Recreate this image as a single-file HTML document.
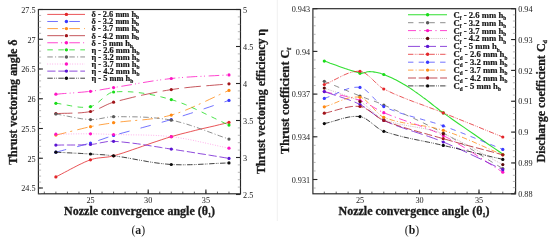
<!DOCTYPE html>
<html><head><meta charset="utf-8"><title>Figure</title>
<style>html,body{margin:0;padding:0;background:#fff}svg{display:block}text{font-family:"Liberation Serif", "DejaVu Serif", serif;fill:#1a1a1a}</style></head><body>
<svg width="550" height="240" viewBox="0 0 550 240">
<rect width="550" height="240" fill="#ffffff"/>
<line x1="277.3" x2="277.3" y1="0" y2="221" stroke="#f1f1f1" stroke-width="1"/>
<path d="M55.9 176.9 L58.8 175.4 L61.7 173.9 L64.5 172.4 L67.4 170.9 L70.3 169.3 L73.2 167.8 L76.1 166.3 L79.0 164.8 L81.8 163.5 L84.7 162.1 L87.6 160.9 L90.5 159.8 L92.4 159.2 L94.3 158.7 L96.3 158.3 L98.2 158.0 L100.1 157.8 L102.0 157.6 L104.0 157.4 L105.9 157.2 L107.8 157.0 L109.7 156.7 L111.7 156.3 L113.6 155.8 L118.4 154.4 L123.2 152.9 L128.0 151.3 L132.8 149.6 L137.6 148.0 L142.4 146.3 L147.2 144.6 L152.0 142.9 L156.9 141.3 L161.7 139.7 L166.5 138.1 L171.3 136.7 L176.1 135.3 L180.9 134.0 L185.7 132.8 L190.5 131.6 L195.3 130.4 L200.1 129.2 L204.9 128.1 L209.7 127.0 L214.6 125.9 L219.4 124.7 L224.2 123.6 L229.0 122.4" fill="none" stroke="#e3262a" stroke-width="0.9" stroke-opacity="0.88"/>
<circle cx="55.88" cy="176.90" r="1.6" fill="#e3262a"/>
<circle cx="90.50" cy="159.80" r="1.6" fill="#e3262a"/>
<circle cx="113.58" cy="155.80" r="1.6" fill="#e3262a"/>
<circle cx="171.28" cy="136.70" r="1.6" fill="#e3262a"/>
<circle cx="228.98" cy="122.40" r="1.6" fill="#e3262a"/>
<path d="M55.9 152.2 L58.8 151.4 L61.7 150.7 L64.5 149.9 L67.4 149.2 L70.3 148.4 L73.2 147.7 L76.1 146.9 L79.0 146.2 L81.8 145.4 L84.7 144.6 L87.6 143.8 L90.5 143.0 L92.4 142.4 L94.3 141.8 L96.3 141.2 L98.2 140.6 L100.1 139.9 L102.0 139.3 L104.0 138.6 L105.9 137.9 L107.8 137.3 L109.7 136.7 L111.7 136.1 L113.6 135.5 L118.4 134.1 L123.2 132.8 L128.0 131.5 L132.8 130.2 L137.6 128.9 L142.4 127.6 L147.2 126.3 L152.0 125.0 L156.9 123.7 L161.7 122.3 L166.5 120.9 L171.3 119.5 L176.1 118.0 L180.9 116.5 L185.7 114.9 L190.5 113.4 L195.3 111.8 L200.1 110.1 L204.9 108.5 L209.7 106.9 L214.6 105.2 L219.4 103.6 L224.2 102.0 L229.0 100.4" fill="none" stroke="#3a3aff" stroke-width="0.9" stroke-opacity="0.8" stroke-dasharray="10.6 11.4"/>
<circle cx="55.88" cy="152.20" r="1.6" fill="#3a3aff"/>
<circle cx="90.50" cy="143.00" r="1.6" fill="#3a3aff"/>
<circle cx="113.58" cy="135.50" r="1.6" fill="#3a3aff"/>
<circle cx="171.28" cy="119.50" r="1.6" fill="#3a3aff"/>
<circle cx="228.98" cy="100.40" r="1.6" fill="#3a3aff"/>
<path d="M55.9 135.1 L58.8 134.4 L61.7 133.7 L64.5 133.0 L67.4 132.2 L70.3 131.5 L73.2 130.8 L76.1 130.1 L79.0 129.4 L81.8 128.7 L84.7 128.0 L87.6 127.3 L90.5 126.7 L92.4 126.3 L94.3 125.9 L96.3 125.5 L98.2 125.2 L100.1 124.8 L102.0 124.5 L104.0 124.2 L105.9 123.9 L107.8 123.6 L109.7 123.3 L111.7 123.0 L113.6 122.7 L118.4 122.1 L123.2 121.6 L128.0 121.1 L132.8 120.7 L137.6 120.3 L142.4 119.9 L147.2 119.4 L152.0 118.8 L156.9 118.2 L161.7 117.3 L166.5 116.3 L171.3 115.1 L176.1 113.6 L180.9 112.0 L185.7 110.1 L190.5 108.1 L195.3 106.0 L200.1 103.8 L204.9 101.6 L209.7 99.3 L214.6 97.0 L219.4 94.7 L224.2 92.5 L229.0 90.4" fill="none" stroke="#ff8a14" stroke-width="0.9" stroke-opacity="0.88" stroke-dasharray="10.6 4.2 2 5.2"/>
<circle cx="55.88" cy="135.10" r="1.6" fill="#ff8a14"/>
<circle cx="90.50" cy="126.70" r="1.6" fill="#ff8a14"/>
<circle cx="113.58" cy="122.70" r="1.6" fill="#ff8a14"/>
<circle cx="171.28" cy="115.10" r="1.6" fill="#ff8a14"/>
<circle cx="228.98" cy="90.40" r="1.6" fill="#ff8a14"/>
<path d="M55.9 113.6 L58.8 113.5 L61.7 113.4 L64.5 113.3 L67.4 113.3 L70.3 113.2 L73.2 113.1 L76.1 113.0 L79.0 112.9 L81.8 112.7 L84.7 112.4 L87.6 112.0 L90.5 111.5 L92.4 111.0 L94.3 110.4 L96.3 109.7 L98.2 108.9 L100.1 108.0 L102.0 107.1 L104.0 106.1 L105.9 105.2 L107.8 104.3 L109.7 103.5 L111.7 102.8 L113.6 102.2 L118.4 100.9 L123.2 99.7 L128.0 98.5 L132.8 97.3 L137.6 96.2 L142.4 95.1 L147.2 94.1 L152.0 93.1 L156.9 92.1 L161.7 91.2 L166.5 90.4 L171.3 89.6 L176.1 88.9 L180.9 88.2 L185.7 87.7 L190.5 87.2 L195.3 86.7 L200.1 86.3 L204.9 85.9 L209.7 85.5 L214.6 85.1 L219.4 84.7 L224.2 84.3 L229.0 83.8" fill="none" stroke="#b4232c" stroke-width="0.9" stroke-opacity="0.85" stroke-dasharray="16.5 5.5"/>
<circle cx="55.88" cy="113.60" r="1.6" fill="#a0141a"/>
<circle cx="90.50" cy="111.50" r="1.6" fill="#a0141a"/>
<circle cx="113.58" cy="102.20" r="1.6" fill="#a0141a"/>
<circle cx="171.28" cy="89.60" r="1.6" fill="#a0141a"/>
<circle cx="228.98" cy="83.80" r="1.6" fill="#a0141a"/>
<path d="M55.9 94.2 L58.8 94.0 L61.7 93.7 L64.5 93.5 L67.4 93.3 L70.3 93.1 L73.2 92.9 L76.1 92.7 L79.0 92.4 L81.8 92.2 L84.7 91.9 L87.6 91.6 L90.5 91.3 L92.4 91.1 L94.3 90.8 L96.3 90.5 L98.2 90.2 L100.1 89.9 L102.0 89.6 L104.0 89.2 L105.9 88.9 L107.8 88.6 L109.7 88.2 L111.7 87.9 L113.6 87.6 L118.4 86.8 L123.2 86.0 L128.0 85.2 L132.8 84.4 L137.6 83.5 L142.4 82.7 L147.2 81.9 L152.0 81.1 L156.9 80.4 L161.7 79.7 L166.5 79.1 L171.3 78.5 L176.1 78.0 L180.9 77.6 L185.7 77.2 L190.5 76.9 L195.3 76.6 L200.1 76.4 L204.9 76.1 L209.7 75.9 L214.6 75.7 L219.4 75.4 L224.2 75.2 L229.0 74.9" fill="none" stroke="#ff14c4" stroke-width="0.9" stroke-opacity="0.88" stroke-dasharray="10.6 3.2 1 2.5 1 3.7"/>
<circle cx="55.88" cy="94.20" r="1.6" fill="#ff14c4"/>
<circle cx="90.50" cy="91.30" r="1.6" fill="#ff14c4"/>
<circle cx="113.58" cy="87.60" r="1.6" fill="#ff14c4"/>
<circle cx="171.28" cy="78.50" r="1.6" fill="#ff14c4"/>
<circle cx="228.98" cy="74.90" r="1.6" fill="#ff14c4"/>
<path d="M55.9 103.3 L58.8 103.6 L61.7 104.1 L64.5 104.6 L67.4 105.2 L70.3 105.7 L73.2 106.3 L76.1 106.7 L79.0 107.1 L81.8 107.3 L84.7 107.3 L87.6 107.1 L90.5 106.7 L92.4 106.1 L94.3 105.1 L96.3 103.9 L98.2 102.4 L100.1 100.7 L102.0 99.0 L104.0 97.4 L105.9 95.8 L107.8 94.4 L109.7 93.2 L111.7 92.4 L113.6 92.0 L118.4 91.7 L123.2 91.6 L128.0 91.7 L132.8 92.0 L137.6 92.5 L142.4 93.1 L147.2 93.9 L152.0 94.8 L156.9 95.8 L161.7 97.0 L166.5 98.3 L171.3 99.6 L176.1 101.1 L180.9 102.8 L185.7 104.7 L190.5 106.8 L195.3 109.0 L200.1 111.2 L204.9 113.6 L209.7 115.9 L214.6 118.3 L219.4 120.6 L224.2 122.9 L229.0 125.1" fill="none" stroke="#19dc19" stroke-width="0.9" stroke-opacity="0.88" stroke-dasharray="5.5 5.5"/>
<circle cx="55.88" cy="103.30" r="1.6" fill="#19dc19"/>
<circle cx="90.50" cy="106.70" r="1.6" fill="#19dc19"/>
<circle cx="113.58" cy="92.00" r="1.6" fill="#19dc19"/>
<circle cx="171.28" cy="99.60" r="1.6" fill="#19dc19"/>
<circle cx="228.98" cy="125.10" r="1.6" fill="#19dc19"/>
<path d="M55.9 114.0 L58.8 114.5 L61.7 115.0 L64.5 115.6 L67.4 116.2 L70.3 116.7 L73.2 117.3 L76.1 117.8 L79.0 118.3 L81.8 118.8 L84.7 119.1 L87.6 119.4 L90.5 119.6 L92.4 119.6 L94.3 119.5 L96.3 119.3 L98.2 119.0 L100.1 118.6 L102.0 118.3 L104.0 117.9 L105.9 117.5 L107.8 117.2 L109.7 116.9 L111.7 116.8 L113.6 116.7 L118.4 116.7 L123.2 116.7 L128.0 116.8 L132.8 116.8 L137.6 116.9 L142.4 117.1 L147.2 117.3 L152.0 117.7 L156.9 118.1 L161.7 118.7 L166.5 119.3 L171.3 120.2 L176.1 121.2 L180.9 122.5 L185.7 123.8 L190.5 125.4 L195.3 127.0 L200.1 128.7 L204.9 130.4 L209.7 132.2 L214.6 134.0 L219.4 135.8 L224.2 137.5 L229.0 139.1" fill="none" stroke="#707070" stroke-width="0.9" stroke-opacity="0.88" stroke-dasharray="5.5 2.3 1 2.2"/>
<circle cx="55.88" cy="114.00" r="1.6" fill="#5a5a5a"/>
<circle cx="90.50" cy="119.60" r="1.6" fill="#5a5a5a"/>
<circle cx="113.58" cy="116.70" r="1.6" fill="#5a5a5a"/>
<circle cx="171.28" cy="120.20" r="1.6" fill="#5a5a5a"/>
<circle cx="228.98" cy="139.10" r="1.6" fill="#5a5a5a"/>
<path d="M55.9 134.2 L58.8 134.2 L61.7 134.1 L64.5 134.1 L67.4 134.0 L70.3 134.0 L73.2 133.9 L76.1 133.9 L79.0 133.8 L81.8 133.8 L84.7 133.8 L87.6 133.8 L90.5 133.8 L92.4 133.8 L94.3 133.8 L96.3 133.9 L98.2 133.9 L100.1 134.0 L102.0 134.1 L104.0 134.1 L105.9 134.2 L107.8 134.3 L109.7 134.4 L111.7 134.4 L113.6 134.5 L118.4 134.6 L123.2 134.7 L128.0 134.8 L132.8 134.9 L137.6 134.9 L142.4 135.0 L147.2 135.1 L152.0 135.3 L156.9 135.5 L161.7 135.8 L166.5 136.2 L171.3 136.7 L176.1 137.3 L180.9 138.1 L185.7 138.9 L190.5 139.8 L195.3 140.8 L200.1 141.9 L204.9 142.9 L209.7 144.0 L214.6 145.1 L219.4 146.2 L224.2 147.2 L229.0 148.2" fill="none" stroke="#ff14c4" stroke-width="0.9" stroke-opacity="0.45" stroke-dasharray="0.8 1.7"/>
<circle cx="55.88" cy="134.20" r="1.6" fill="#ff14c4"/>
<circle cx="90.50" cy="133.80" r="1.6" fill="#ff14c4"/>
<circle cx="113.58" cy="134.50" r="1.6" fill="#ff14c4"/>
<circle cx="171.28" cy="136.70" r="1.6" fill="#ff14c4"/>
<circle cx="228.98" cy="148.20" r="1.6" fill="#ff14c4"/>
<path d="M55.9 145.1 L58.8 145.1 L61.7 145.0 L64.5 145.0 L67.4 145.0 L70.3 145.0 L73.2 145.0 L76.1 145.0 L79.0 144.9 L81.8 144.9 L84.7 144.8 L87.6 144.7 L90.5 144.5 L92.4 144.3 L94.3 144.1 L96.3 143.7 L98.2 143.3 L100.1 142.9 L102.0 142.5 L104.0 142.2 L105.9 141.8 L107.8 141.5 L109.7 141.3 L111.7 141.3 L113.6 141.3 L118.4 141.6 L123.2 142.1 L128.0 142.6 L132.8 143.2 L137.6 143.8 L142.4 144.5 L147.2 145.3 L152.0 146.1 L156.9 146.8 L161.7 147.6 L166.5 148.4 L171.3 149.1 L176.1 149.8 L180.9 150.6 L185.7 151.3 L190.5 152.1 L195.3 152.9 L200.1 153.7 L204.9 154.4 L209.7 155.2 L214.6 156.0 L219.4 156.8 L224.2 157.6 L229.0 158.4" fill="none" stroke="#7a2ad6" stroke-width="0.9" stroke-opacity="0.95" stroke-dasharray="8.2 2.8"/>
<circle cx="55.88" cy="145.10" r="1.6" fill="#5a14d2"/>
<circle cx="90.50" cy="144.50" r="1.6" fill="#5a14d2"/>
<circle cx="113.58" cy="141.30" r="1.6" fill="#5a14d2"/>
<circle cx="171.28" cy="149.10" r="1.6" fill="#5a14d2"/>
<circle cx="228.98" cy="158.40" r="1.6" fill="#5a14d2"/>
<path d="M55.9 152.2 L58.8 152.3 L61.7 152.5 L64.5 152.6 L67.4 152.8 L70.3 152.9 L73.2 153.1 L76.1 153.2 L79.0 153.3 L81.8 153.5 L84.7 153.7 L87.6 153.8 L90.5 154.0 L92.4 154.1 L94.3 154.2 L96.3 154.3 L98.2 154.5 L100.1 154.6 L102.0 154.7 L104.0 154.8 L105.9 155.0 L107.8 155.2 L109.7 155.4 L111.7 155.6 L113.6 155.8 L118.4 156.5 L123.2 157.2 L128.0 158.0 L132.8 158.9 L137.6 159.8 L142.4 160.6 L147.2 161.5 L152.0 162.3 L156.9 163.0 L161.7 163.6 L166.5 164.1 L171.3 164.5 L176.1 164.7 L180.9 164.8 L185.7 164.8 L190.5 164.7 L195.3 164.6 L200.1 164.3 L204.9 164.1 L209.7 163.8 L214.6 163.5 L219.4 163.3 L224.2 163.1 L229.0 162.9" fill="none" stroke="#0a0a0a" stroke-width="0.9" stroke-opacity="0.88" stroke-dasharray="5.5 1.3 0.8 1 0.8 1.6"/>
<circle cx="55.88" cy="152.20" r="1.6" fill="#0a0a0a"/>
<circle cx="90.50" cy="154.00" r="1.6" fill="#0a0a0a"/>
<circle cx="113.58" cy="155.80" r="1.6" fill="#0a0a0a"/>
<circle cx="171.28" cy="164.50" r="1.6" fill="#0a0a0a"/>
<circle cx="228.98" cy="162.90" r="1.6" fill="#0a0a0a"/>
<rect x="38.4" y="9.5" width="202.1" height="184.3" fill="none" stroke="#262626" stroke-width="1.15"/>
<line x1="44.34" x2="44.34" y1="193.8" y2="191.60000000000002" stroke="#262626" stroke-width="0.7"/>
<line x1="55.88" x2="55.88" y1="193.8" y2="191.60000000000002" stroke="#262626" stroke-width="0.7"/>
<line x1="67.42" x2="67.42" y1="193.8" y2="191.60000000000002" stroke="#262626" stroke-width="0.7"/>
<line x1="78.96" x2="78.96" y1="193.8" y2="191.60000000000002" stroke="#262626" stroke-width="0.7"/>
<line x1="90.50" x2="90.50" y1="193.8" y2="191.60000000000002" stroke="#262626" stroke-width="0.7"/>
<line x1="102.04" x2="102.04" y1="193.8" y2="191.60000000000002" stroke="#262626" stroke-width="0.7"/>
<line x1="113.58" x2="113.58" y1="193.8" y2="191.60000000000002" stroke="#262626" stroke-width="0.7"/>
<line x1="125.12" x2="125.12" y1="193.8" y2="191.60000000000002" stroke="#262626" stroke-width="0.7"/>
<line x1="136.66" x2="136.66" y1="193.8" y2="191.60000000000002" stroke="#262626" stroke-width="0.7"/>
<line x1="148.20" x2="148.20" y1="193.8" y2="191.60000000000002" stroke="#262626" stroke-width="0.7"/>
<line x1="159.74" x2="159.74" y1="193.8" y2="191.60000000000002" stroke="#262626" stroke-width="0.7"/>
<line x1="171.28" x2="171.28" y1="193.8" y2="191.60000000000002" stroke="#262626" stroke-width="0.7"/>
<line x1="182.82" x2="182.82" y1="193.8" y2="191.60000000000002" stroke="#262626" stroke-width="0.7"/>
<line x1="194.36" x2="194.36" y1="193.8" y2="191.60000000000002" stroke="#262626" stroke-width="0.7"/>
<line x1="205.90" x2="205.90" y1="193.8" y2="191.60000000000002" stroke="#262626" stroke-width="0.7"/>
<line x1="217.44" x2="217.44" y1="193.8" y2="191.60000000000002" stroke="#262626" stroke-width="0.7"/>
<line x1="228.98" x2="228.98" y1="193.8" y2="191.60000000000002" stroke="#262626" stroke-width="0.7"/>
<line x1="240.52" x2="240.52" y1="193.8" y2="191.60000000000002" stroke="#262626" stroke-width="0.7"/>
<line x1="90.50" x2="90.50" y1="193.8" y2="189.60000000000002" stroke="#262626" stroke-width="1.1"/>
<text x="90.50" y="203.0" font-size="8.2" text-anchor="middle">25</text>
<line x1="148.20" x2="148.20" y1="193.8" y2="189.60000000000002" stroke="#262626" stroke-width="1.1"/>
<text x="148.20" y="203.0" font-size="8.2" text-anchor="middle">30</text>
<line x1="205.90" x2="205.90" y1="193.8" y2="189.60000000000002" stroke="#262626" stroke-width="1.1"/>
<text x="205.90" y="203.0" font-size="8.2" text-anchor="middle">35</text>
<line x1="38.4" x2="41.1" y1="193.95" y2="193.95" stroke="#888" stroke-width="0.6"/>
<line x1="38.4" x2="41.1" y1="188.00" y2="188.00" stroke="#888" stroke-width="0.6"/>
<line x1="38.4" x2="41.1" y1="182.05" y2="182.05" stroke="#888" stroke-width="0.6"/>
<line x1="38.4" x2="41.1" y1="176.10" y2="176.10" stroke="#888" stroke-width="0.6"/>
<line x1="38.4" x2="41.1" y1="170.15" y2="170.15" stroke="#888" stroke-width="0.6"/>
<line x1="38.4" x2="41.1" y1="164.20" y2="164.20" stroke="#888" stroke-width="0.6"/>
<line x1="38.4" x2="41.1" y1="158.25" y2="158.25" stroke="#888" stroke-width="0.6"/>
<line x1="38.4" x2="41.1" y1="152.30" y2="152.30" stroke="#888" stroke-width="0.6"/>
<line x1="38.4" x2="41.1" y1="146.35" y2="146.35" stroke="#888" stroke-width="0.6"/>
<line x1="38.4" x2="41.1" y1="140.40" y2="140.40" stroke="#888" stroke-width="0.6"/>
<line x1="38.4" x2="41.1" y1="134.45" y2="134.45" stroke="#888" stroke-width="0.6"/>
<line x1="38.4" x2="41.1" y1="128.50" y2="128.50" stroke="#888" stroke-width="0.6"/>
<line x1="38.4" x2="41.1" y1="122.55" y2="122.55" stroke="#888" stroke-width="0.6"/>
<line x1="38.4" x2="41.1" y1="116.60" y2="116.60" stroke="#888" stroke-width="0.6"/>
<line x1="38.4" x2="41.1" y1="110.65" y2="110.65" stroke="#888" stroke-width="0.6"/>
<line x1="38.4" x2="41.1" y1="104.70" y2="104.70" stroke="#888" stroke-width="0.6"/>
<line x1="38.4" x2="41.1" y1="98.75" y2="98.75" stroke="#888" stroke-width="0.6"/>
<line x1="38.4" x2="41.1" y1="92.80" y2="92.80" stroke="#888" stroke-width="0.6"/>
<line x1="38.4" x2="41.1" y1="86.85" y2="86.85" stroke="#888" stroke-width="0.6"/>
<line x1="38.4" x2="41.1" y1="80.90" y2="80.90" stroke="#888" stroke-width="0.6"/>
<line x1="38.4" x2="41.1" y1="74.95" y2="74.95" stroke="#888" stroke-width="0.6"/>
<line x1="38.4" x2="41.1" y1="69.00" y2="69.00" stroke="#888" stroke-width="0.6"/>
<line x1="38.4" x2="41.1" y1="63.05" y2="63.05" stroke="#888" stroke-width="0.6"/>
<line x1="38.4" x2="41.1" y1="57.10" y2="57.10" stroke="#888" stroke-width="0.6"/>
<line x1="38.4" x2="41.1" y1="51.15" y2="51.15" stroke="#888" stroke-width="0.6"/>
<line x1="38.4" x2="41.1" y1="45.20" y2="45.20" stroke="#888" stroke-width="0.6"/>
<line x1="38.4" x2="41.1" y1="39.25" y2="39.25" stroke="#888" stroke-width="0.6"/>
<line x1="38.4" x2="41.1" y1="33.30" y2="33.30" stroke="#888" stroke-width="0.6"/>
<line x1="38.4" x2="41.1" y1="27.35" y2="27.35" stroke="#888" stroke-width="0.6"/>
<line x1="38.4" x2="41.1" y1="21.40" y2="21.40" stroke="#888" stroke-width="0.6"/>
<line x1="38.4" x2="41.1" y1="15.45" y2="15.45" stroke="#888" stroke-width="0.6"/>
<line x1="38.4" x2="41.1" y1="9.50" y2="9.50" stroke="#888" stroke-width="0.6"/>
<line x1="38.4" x2="42.9" y1="188.00" y2="188.00" stroke="#262626" stroke-width="1.1"/>
<text x="35.60" y="191.30" font-size="8.2" text-anchor="end">24.5</text>
<line x1="38.4" x2="42.9" y1="158.25" y2="158.25" stroke="#262626" stroke-width="1.1"/>
<text x="35.60" y="161.55" font-size="8.2" text-anchor="end">25</text>
<line x1="38.4" x2="42.9" y1="128.50" y2="128.50" stroke="#262626" stroke-width="1.1"/>
<text x="35.60" y="131.80" font-size="8.2" text-anchor="end">25.5</text>
<line x1="38.4" x2="42.9" y1="98.75" y2="98.75" stroke="#262626" stroke-width="1.1"/>
<text x="35.60" y="102.05" font-size="8.2" text-anchor="end">26</text>
<line x1="38.4" x2="42.9" y1="69.00" y2="69.00" stroke="#262626" stroke-width="1.1"/>
<text x="35.60" y="72.30" font-size="8.2" text-anchor="end">26.5</text>
<line x1="38.4" x2="42.9" y1="39.25" y2="39.25" stroke="#262626" stroke-width="1.1"/>
<text x="35.60" y="42.55" font-size="8.2" text-anchor="end">27</text>
<line x1="38.4" x2="42.9" y1="9.50" y2="9.50" stroke="#262626" stroke-width="1.1"/>
<text x="35.60" y="12.80" font-size="8.2" text-anchor="end">27.5</text>
<line x1="240.5" x2="237.8" y1="194.50" y2="194.50" stroke="#888" stroke-width="0.6"/>
<line x1="240.5" x2="237.8" y1="187.10" y2="187.10" stroke="#888" stroke-width="0.6"/>
<line x1="240.5" x2="237.8" y1="179.70" y2="179.70" stroke="#888" stroke-width="0.6"/>
<line x1="240.5" x2="237.8" y1="172.30" y2="172.30" stroke="#888" stroke-width="0.6"/>
<line x1="240.5" x2="237.8" y1="164.90" y2="164.90" stroke="#888" stroke-width="0.6"/>
<line x1="240.5" x2="237.8" y1="157.50" y2="157.50" stroke="#888" stroke-width="0.6"/>
<line x1="240.5" x2="237.8" y1="150.10" y2="150.10" stroke="#888" stroke-width="0.6"/>
<line x1="240.5" x2="237.8" y1="142.70" y2="142.70" stroke="#888" stroke-width="0.6"/>
<line x1="240.5" x2="237.8" y1="135.30" y2="135.30" stroke="#888" stroke-width="0.6"/>
<line x1="240.5" x2="237.8" y1="127.90" y2="127.90" stroke="#888" stroke-width="0.6"/>
<line x1="240.5" x2="237.8" y1="120.50" y2="120.50" stroke="#888" stroke-width="0.6"/>
<line x1="240.5" x2="237.8" y1="113.10" y2="113.10" stroke="#888" stroke-width="0.6"/>
<line x1="240.5" x2="237.8" y1="105.70" y2="105.70" stroke="#888" stroke-width="0.6"/>
<line x1="240.5" x2="237.8" y1="98.30" y2="98.30" stroke="#888" stroke-width="0.6"/>
<line x1="240.5" x2="237.8" y1="90.90" y2="90.90" stroke="#888" stroke-width="0.6"/>
<line x1="240.5" x2="237.8" y1="83.50" y2="83.50" stroke="#888" stroke-width="0.6"/>
<line x1="240.5" x2="237.8" y1="76.10" y2="76.10" stroke="#888" stroke-width="0.6"/>
<line x1="240.5" x2="237.8" y1="68.70" y2="68.70" stroke="#888" stroke-width="0.6"/>
<line x1="240.5" x2="237.8" y1="61.30" y2="61.30" stroke="#888" stroke-width="0.6"/>
<line x1="240.5" x2="237.8" y1="53.90" y2="53.90" stroke="#888" stroke-width="0.6"/>
<line x1="240.5" x2="237.8" y1="46.50" y2="46.50" stroke="#888" stroke-width="0.6"/>
<line x1="240.5" x2="237.8" y1="39.10" y2="39.10" stroke="#888" stroke-width="0.6"/>
<line x1="240.5" x2="237.8" y1="31.70" y2="31.70" stroke="#888" stroke-width="0.6"/>
<line x1="240.5" x2="237.8" y1="24.30" y2="24.30" stroke="#888" stroke-width="0.6"/>
<line x1="240.5" x2="237.8" y1="16.90" y2="16.90" stroke="#888" stroke-width="0.6"/>
<line x1="240.5" x2="237.8" y1="9.50" y2="9.50" stroke="#888" stroke-width="0.6"/>
<line x1="240.5" x2="236.0" y1="194.50" y2="194.50" stroke="#262626" stroke-width="1.1"/>
<text x="243.1" y="197.60" font-size="8.2" text-anchor="start">2.5</text>
<line x1="240.5" x2="236.0" y1="157.50" y2="157.50" stroke="#262626" stroke-width="1.1"/>
<text x="243.1" y="160.60" font-size="8.2" text-anchor="start">3</text>
<line x1="240.5" x2="236.0" y1="120.50" y2="120.50" stroke="#262626" stroke-width="1.1"/>
<text x="243.1" y="123.60" font-size="8.2" text-anchor="start">3.5</text>
<line x1="240.5" x2="236.0" y1="83.50" y2="83.50" stroke="#262626" stroke-width="1.1"/>
<text x="243.1" y="86.60" font-size="8.2" text-anchor="start">4</text>
<line x1="240.5" x2="236.0" y1="46.50" y2="46.50" stroke="#262626" stroke-width="1.1"/>
<text x="243.1" y="49.60" font-size="8.2" text-anchor="start">4.5</text>
<line x1="240.5" x2="236.0" y1="9.50" y2="9.50" stroke="#262626" stroke-width="1.1"/>
<text x="243.1" y="12.60" font-size="8.2" text-anchor="start">5</text>
<line x1="47.3" x2="85" y1="14.40" y2="14.40" stroke="#e3262a" stroke-width="0.9" stroke-opacity="0.88"/>
<circle cx="66.4" cy="14.40" r="1.7" fill="#e3262a"/>
<text transform="translate(91.5,17.30) scale(1.0,1)" font-size="8.4" font-weight="bold" stroke="#1a1a1a" stroke-width="0.22">δ - 2.6 mm h<tspan font-size="5.4" dy="1.9">b</tspan></text>
<line x1="47.3" x2="85" y1="21.49" y2="21.49" stroke="#3a3aff" stroke-width="0.9" stroke-opacity="0.8" stroke-dasharray="10.6 11.4"/>
<circle cx="66.4" cy="21.49" r="1.7" fill="#3a3aff"/>
<text transform="translate(91.5,24.39) scale(1.0,1)" font-size="8.4" font-weight="bold" stroke="#1a1a1a" stroke-width="0.22">δ - 3.2 mm h<tspan font-size="5.4" dy="1.9">b</tspan></text>
<line x1="47.3" x2="85" y1="28.58" y2="28.58" stroke="#ff8a14" stroke-width="0.9" stroke-opacity="0.88" stroke-dasharray="10.6 4.2 2 5.2"/>
<circle cx="66.4" cy="28.58" r="1.7" fill="#ff8a14"/>
<text transform="translate(91.5,31.48) scale(1.0,1)" font-size="8.4" font-weight="bold" stroke="#1a1a1a" stroke-width="0.22">δ - 3.7 mm h<tspan font-size="5.4" dy="1.9">b</tspan></text>
<line x1="47.3" x2="85" y1="35.67" y2="35.67" stroke="#b4232c" stroke-width="0.9" stroke-opacity="0.85" stroke-dasharray="16.5 5.5"/>
<circle cx="66.4" cy="35.67" r="1.7" fill="#a0141a"/>
<text transform="translate(91.5,38.57) scale(1.0,1)" font-size="8.4" font-weight="bold" stroke="#1a1a1a" stroke-width="0.22">δ - 4.2 mm h<tspan font-size="5.4" dy="1.9">b</tspan></text>
<line x1="47.3" x2="85" y1="42.76" y2="42.76" stroke="#ff14c4" stroke-width="0.9" stroke-opacity="0.88" stroke-dasharray="10.6 3.2 1 2.5 1 3.7"/>
<circle cx="66.4" cy="42.76" r="1.7" fill="#ff14c4"/>
<text transform="translate(91.5,45.66) scale(1.0,1)" font-size="8.4" font-weight="bold" stroke="#1a1a1a" stroke-width="0.22">δ - 5 mm h<tspan font-size="5.4" dy="1.9">b</tspan></text>
<line x1="47.3" x2="85" y1="49.85" y2="49.85" stroke="#19dc19" stroke-width="0.9" stroke-opacity="0.88" stroke-dasharray="5.5 5.5"/>
<circle cx="66.4" cy="49.85" r="1.7" fill="#19dc19"/>
<text transform="translate(91.5,52.75) scale(1.0,1)" font-size="8.4" font-weight="bold" stroke="#1a1a1a" stroke-width="0.22">η - 2.6 mm h<tspan font-size="5.4" dy="1.9">b</tspan></text>
<line x1="47.3" x2="85" y1="56.94" y2="56.94" stroke="#707070" stroke-width="0.9" stroke-opacity="0.88" stroke-dasharray="5.5 2.3 1 2.2"/>
<circle cx="66.4" cy="56.94" r="1.7" fill="#5a5a5a"/>
<text transform="translate(91.5,59.84) scale(1.0,1)" font-size="8.4" font-weight="bold" stroke="#1a1a1a" stroke-width="0.22">η - 3.2 mm h<tspan font-size="5.4" dy="1.9">b</tspan></text>
<line x1="47.3" x2="85" y1="64.03" y2="64.03" stroke="#ff14c4" stroke-width="0.9" stroke-opacity="0.45" stroke-dasharray="0.8 1.7"/>
<circle cx="66.4" cy="64.03" r="1.7" fill="#ff14c4"/>
<text transform="translate(91.5,66.93) scale(1.0,1)" font-size="8.4" font-weight="bold" stroke="#1a1a1a" stroke-width="0.22">η - 3.7 mm h<tspan font-size="5.4" dy="1.9">b</tspan></text>
<line x1="47.3" x2="85" y1="71.12" y2="71.12" stroke="#7a2ad6" stroke-width="0.9" stroke-opacity="0.95" stroke-dasharray="8.2 2.8"/>
<circle cx="66.4" cy="71.12" r="1.7" fill="#5a14d2"/>
<text transform="translate(91.5,74.02) scale(1.0,1)" font-size="8.4" font-weight="bold" stroke="#1a1a1a" stroke-width="0.22">η - 4.2 mm h<tspan font-size="5.4" dy="1.9">b</tspan></text>
<line x1="47.3" x2="85" y1="78.21" y2="78.21" stroke="#0a0a0a" stroke-width="0.9" stroke-opacity="0.88" stroke-dasharray="5.5 1.3 0.8 1 0.8 1.6"/>
<circle cx="66.4" cy="78.21" r="1.7" fill="#0a0a0a"/>
<text transform="translate(91.5,81.11) scale(1.0,1)" font-size="8.4" font-weight="bold" stroke="#1a1a1a" stroke-width="0.22">η - 5 mm h<tspan font-size="5.4" dy="1.9">b</tspan></text>
<text transform="translate(139.60,214.60)" font-size="12.0" font-weight="bold" text-anchor="middle" stroke="#1a1a1a" stroke-width="0.3">Nozzle convergence angle (θ<tspan font-size="6.2" dy="2.8">1</tspan><tspan dy="-2.8">)</tspan></text>
<text transform="translate(138.30,234.00)" font-size="11.8" font-weight="bold" text-anchor="middle"><tspan font-weight="normal">(</tspan>a<tspan font-weight="normal">)</tspan></text>
<text transform="translate(17.00,102.20) rotate(-90) scale(1.0,1.04)" font-size="11.95" font-weight="bold" text-anchor="middle" stroke="#1a1a1a" stroke-width="0.3">Thrust vectoring angle δ</text>
<text transform="translate(265.00,101.50) rotate(-90) scale(1.0,1.04)" font-size="11.8" font-weight="bold" text-anchor="middle" stroke="#1a1a1a" stroke-width="0.3">Thrust vectoring efficiency η</text>
<path d="M324.3 61.1 L327.3 62.1 L330.2 63.2 L333.2 64.2 L336.2 65.3 L339.2 66.4 L342.1 67.5 L345.1 68.6 L348.1 69.6 L351.1 70.5 L354.1 71.4 L357.0 72.3 L360.0 73.0 L360.8 73.1 L361.7 73.1 L362.5 73.1 L363.3 72.9 L364.2 72.7 L365.0 72.5 L365.8 72.3 L366.7 72.0 L367.5 71.8 L368.3 71.7 L369.2 71.6 L370.0 71.6 L371.1 71.7 L372.3 71.8 L373.4 71.9 L374.6 72.1 L375.8 72.3 L376.9 72.5 L378.1 72.7 L379.2 73.0 L380.4 73.3 L381.5 73.7 L382.7 74.1 L383.8 74.5 L385.6 75.2 L387.3 75.9 L389.1 76.7 L390.9 77.5 L392.6 78.3 L394.4 79.2 L396.2 80.1 L397.9 81.0 L399.7 82.0 L401.5 83.0 L403.2 84.0 L405.0 85.0 L406.7 86.0 L408.3 87.1 L410.0 88.1 L411.7 89.2 L413.3 90.4 L415.0 91.6 L416.7 92.7 L418.3 93.9 L420.0 95.1 L421.7 96.4 L423.3 97.6 L425.0 98.8 L426.5 99.9 L428.1 101.1 L429.6 102.3 L431.1 103.5 L432.6 104.7 L434.1 105.9 L435.7 107.1 L437.2 108.3 L438.7 109.5 L440.2 110.7 L441.8 111.8 L443.3 112.9 L448.3 116.4 L453.3 120.0 L458.3 123.5 L463.3 126.9 L468.3 130.4 L473.3 133.8 L478.3 137.3 L483.3 140.7 L488.3 144.2 L493.3 147.6 L498.3 151.0 L503.3 154.5" fill="none" stroke="#19dc19" stroke-width="1.1" stroke-opacity="0.9"/>
<circle cx="324.30" cy="61.10" r="1.6" fill="#19dc19"/>
<circle cx="360.00" cy="73.30" r="1.6" fill="#19dc19"/>
<circle cx="383.80" cy="74.50" r="1.6" fill="#19dc19"/>
<circle cx="443.30" cy="112.90" r="1.6" fill="#19dc19"/>
<circle cx="502.80" cy="154.50" r="1.6" fill="#19dc19"/>
<path d="M324.3 81.3 L327.3 82.5 L330.2 83.8 L333.2 85.0 L336.2 86.2 L339.2 87.5 L342.1 88.7 L345.1 89.9 L348.1 91.2 L351.1 92.4 L354.1 93.6 L357.0 94.8 L360.0 96.0 L362.0 96.8 L364.0 97.5 L365.9 98.2 L367.9 99.0 L369.9 99.7 L371.9 100.4 L373.9 101.1 L375.9 101.8 L377.9 102.6 L379.8 103.3 L381.8 104.1 L383.8 105.0 L388.8 107.2 L393.7 109.4 L398.7 111.6 L403.6 113.8 L408.6 116.1 L413.6 118.3 L418.5 120.6 L423.5 123.0 L428.4 125.4 L433.4 127.9 L438.3 130.4 L443.3 133.0 L448.3 135.7 L453.2 138.5 L458.2 141.4 L463.1 144.3 L468.1 147.3 L473.1 150.3 L478.0 153.4 L483.0 156.5 L487.9 159.5 L492.9 162.6 L497.8 165.6 L502.8 168.6" fill="none" stroke="#707070" stroke-width="0.9" stroke-opacity="0.88" stroke-dasharray="5.4 5.3"/>
<circle cx="324.30" cy="81.30" r="1.6" fill="#5a5a5a"/>
<circle cx="360.00" cy="96.00" r="1.6" fill="#5a5a5a"/>
<circle cx="383.80" cy="105.00" r="1.6" fill="#5a5a5a"/>
<circle cx="443.30" cy="133.00" r="1.6" fill="#5a5a5a"/>
<circle cx="502.80" cy="168.60" r="1.6" fill="#5a5a5a"/>
<path d="M324.3 91.6 L327.3 92.3 L330.2 93.0 L333.2 93.6 L336.2 94.2 L339.2 94.9 L342.1 95.5 L345.1 96.2 L348.1 96.9 L351.1 97.7 L354.1 98.5 L357.0 99.4 L360.0 100.4 L362.0 101.2 L364.0 102.1 L365.9 103.0 L367.9 104.1 L369.9 105.2 L371.9 106.3 L373.9 107.5 L375.9 108.6 L377.9 109.8 L379.8 110.8 L381.8 111.8 L383.8 112.7 L388.8 114.7 L393.7 116.6 L398.7 118.4 L403.6 120.2 L408.6 121.9 L413.6 123.6 L418.5 125.3 L423.5 127.1 L428.4 129.0 L433.4 131.0 L438.3 133.2 L443.3 135.6 L448.3 138.2 L453.2 140.9 L458.2 143.8 L463.1 146.8 L468.1 149.9 L473.1 153.0 L478.0 156.3 L483.0 159.5 L487.9 162.7 L492.9 165.9 L497.8 169.1 L502.8 172.2" fill="none" stroke="#ff14c4" stroke-width="0.9" stroke-opacity="0.88" stroke-dasharray="8 3.4 1.2 3.4"/>
<circle cx="324.30" cy="91.60" r="1.6" fill="#ff14c4"/>
<circle cx="360.00" cy="100.40" r="1.6" fill="#ff14c4"/>
<circle cx="383.80" cy="112.70" r="1.6" fill="#ff14c4"/>
<circle cx="443.30" cy="135.60" r="1.6" fill="#ff14c4"/>
<circle cx="502.80" cy="172.20" r="1.6" fill="#ff14c4"/>
<path d="M324.3 88.1 L327.3 89.2 L330.2 90.2 L333.2 91.2 L336.2 92.2 L339.2 93.2 L342.1 94.2 L345.1 95.2 L348.1 96.3 L351.1 97.5 L354.1 98.7 L357.0 100.1 L360.0 101.6 L362.0 102.8 L364.0 104.2 L365.9 105.7 L367.9 107.4 L369.9 109.2 L371.9 111.0 L373.9 112.7 L375.9 114.4 L377.9 116.0 L379.8 117.4 L381.8 118.6 L383.8 119.5 L388.8 121.2 L393.7 122.7 L398.7 123.9 L403.6 124.9 L408.6 125.9 L413.6 126.7 L418.5 127.6 L423.5 128.5 L428.4 129.5 L433.4 130.7 L438.3 132.1 L443.3 133.8 L448.3 135.8 L453.2 138.0 L458.2 140.3 L463.1 142.8 L468.1 145.5 L473.1 148.2 L478.0 150.9 L483.0 153.7 L487.9 156.5 L492.9 159.3 L497.8 162.0 L502.8 164.6" fill="none" stroke="#806060" stroke-width="0.9" stroke-opacity="0.5" stroke-dasharray="0.8 1.1"/>
<circle cx="324.30" cy="88.10" r="1.6" fill="#5a0a0a"/>
<circle cx="360.00" cy="101.60" r="1.6" fill="#5a0a0a"/>
<circle cx="383.80" cy="119.50" r="1.6" fill="#5a0a0a"/>
<circle cx="443.30" cy="133.80" r="1.6" fill="#5a0a0a"/>
<circle cx="502.80" cy="164.60" r="1.6" fill="#5a0a0a"/>
<path d="M324.3 91.6 L327.3 92.6 L330.2 93.6 L333.2 94.6 L336.2 95.6 L339.2 96.5 L342.1 97.5 L345.1 98.5 L348.1 99.5 L351.1 100.7 L354.1 101.8 L357.0 103.1 L360.0 104.5 L362.0 105.6 L364.0 106.8 L365.9 108.1 L367.9 109.6 L369.9 111.1 L371.9 112.6 L373.9 114.1 L375.9 115.6 L377.9 117.0 L379.8 118.3 L381.8 119.5 L383.8 120.5 L388.8 122.6 L393.7 124.6 L398.7 126.5 L403.6 128.2 L408.6 129.9 L413.6 131.5 L418.5 133.1 L423.5 134.8 L428.4 136.4 L433.4 138.2 L438.3 140.0 L443.3 142.0 L448.3 144.1 L453.2 146.3 L458.2 148.5 L463.1 150.8 L468.1 153.1 L473.1 155.5 L478.0 157.8 L483.0 160.2 L487.9 162.6 L492.9 165.0 L497.8 167.4 L502.8 169.7" fill="none" stroke="#7a2ad6" stroke-width="0.9" stroke-opacity="0.95" stroke-dasharray="12 4"/>
<circle cx="324.30" cy="91.60" r="1.6" fill="#5a14d2"/>
<circle cx="360.00" cy="104.50" r="1.6" fill="#5a14d2"/>
<circle cx="383.80" cy="120.50" r="1.6" fill="#5a14d2"/>
<circle cx="443.30" cy="142.00" r="1.6" fill="#5a14d2"/>
<circle cx="502.80" cy="169.70" r="1.6" fill="#5a14d2"/>
<path d="M324.3 84.5 L327.3 83.3 L330.2 81.9 L333.2 80.5 L336.2 78.9 L339.2 77.4 L342.1 75.9 L345.1 74.5 L348.1 73.3 L351.1 72.4 L354.1 71.7 L357.0 71.3 L360.0 71.3 L362.0 71.7 L364.0 72.5 L365.9 73.8 L367.9 75.3 L369.9 77.0 L371.9 78.9 L373.9 80.8 L375.9 82.8 L377.9 84.6 L379.8 86.4 L381.8 87.8 L383.8 89.0 L388.8 91.4 L393.7 93.7 L398.7 95.8 L403.6 97.8 L408.6 99.8 L413.6 101.7 L418.5 103.5 L423.5 105.3 L428.4 107.2 L433.4 109.0 L438.3 110.9 L443.3 112.9 L448.3 114.9 L453.2 116.9 L458.2 118.9 L463.1 120.9 L468.1 122.9 L473.1 124.9 L478.0 126.9 L483.0 129.0 L487.9 131.0 L492.9 133.0 L497.8 135.0 L502.8 137.0" fill="none" stroke="#e3262a" stroke-width="0.9" stroke-opacity="0.88" stroke-dasharray="5.4 1.4 0.8 1 0.8 1.3"/>
<circle cx="324.30" cy="84.50" r="1.6" fill="#e3262a"/>
<circle cx="360.00" cy="71.30" r="1.6" fill="#e3262a"/>
<circle cx="383.80" cy="89.00" r="1.6" fill="#e3262a"/>
<circle cx="443.30" cy="112.90" r="1.6" fill="#e3262a"/>
<circle cx="502.80" cy="137.00" r="1.6" fill="#e3262a"/>
<path d="M324.3 98.4 L327.3 97.4 L330.2 96.2 L333.2 94.9 L336.2 93.6 L339.2 92.2 L342.1 90.9 L345.1 89.7 L348.1 88.7 L351.1 87.9 L354.1 87.4 L357.0 87.2 L360.0 87.4 L362.0 87.9 L364.0 88.9 L365.9 90.3 L367.9 92.0 L369.9 94.0 L371.9 96.0 L373.9 98.2 L375.9 100.2 L377.9 102.2 L379.8 104.0 L381.8 105.5 L383.8 106.6 L388.8 108.8 L393.7 110.7 L398.7 112.5 L403.6 114.1 L408.6 115.6 L413.6 117.0 L418.5 118.4 L423.5 119.8 L428.4 121.2 L433.4 122.6 L438.3 124.2 L443.3 125.9 L448.3 127.7 L453.2 129.6 L458.2 131.5 L463.1 133.4 L468.1 135.4 L473.1 137.4 L478.0 139.4 L483.0 141.4 L487.9 143.4 L492.9 145.4 L497.8 147.4 L502.8 149.4" fill="none" stroke="#3a3aff" stroke-width="0.9" stroke-opacity="0.8" stroke-dasharray="5.4 5.3"/>
<circle cx="324.30" cy="98.40" r="1.6" fill="#3a3aff"/>
<circle cx="360.00" cy="87.40" r="1.6" fill="#3a3aff"/>
<circle cx="383.80" cy="106.60" r="1.6" fill="#3a3aff"/>
<circle cx="443.30" cy="125.90" r="1.6" fill="#3a3aff"/>
<circle cx="502.80" cy="149.40" r="1.6" fill="#3a3aff"/>
<path d="M324.3 106.8 L327.3 105.9 L330.2 104.9 L333.2 103.7 L336.2 102.5 L339.2 101.2 L342.1 100.1 L345.1 99.0 L348.1 98.1 L351.1 97.5 L354.1 97.1 L357.0 97.0 L360.0 97.3 L362.0 97.9 L364.0 99.0 L365.9 100.6 L367.9 102.4 L369.9 104.5 L371.9 106.6 L373.9 108.9 L375.9 111.0 L377.9 113.0 L379.8 114.8 L381.8 116.3 L383.8 117.3 L388.8 119.1 L393.7 120.6 L398.7 121.8 L403.6 122.8 L408.6 123.6 L413.6 124.4 L418.5 125.1 L423.5 125.9 L428.4 126.7 L433.4 127.7 L438.3 128.9 L443.3 130.3 L448.3 131.9 L453.2 133.7 L458.2 135.6 L463.1 137.6 L468.1 139.7 L473.1 141.8 L478.0 144.0 L483.0 146.2 L487.9 148.4 L492.9 150.6 L497.8 152.7 L502.8 154.8" fill="none" stroke="#ff8a14" stroke-width="0.9" stroke-opacity="0.88" stroke-dasharray="5.4 2.2 1 2.1"/>
<circle cx="324.30" cy="106.80" r="1.6" fill="#ff8a14"/>
<circle cx="360.00" cy="97.30" r="1.6" fill="#ff8a14"/>
<circle cx="383.80" cy="117.30" r="1.6" fill="#ff8a14"/>
<circle cx="443.30" cy="130.30" r="1.6" fill="#ff8a14"/>
<circle cx="502.80" cy="154.80" r="1.6" fill="#ff8a14"/>
<path d="M324.3 113.2 L327.3 112.6 L330.2 111.8 L333.2 111.0 L336.2 110.1 L339.2 109.3 L342.1 108.5 L345.1 107.7 L348.1 107.1 L351.1 106.6 L354.1 106.3 L357.0 106.3 L360.0 106.5 L362.0 106.9 L364.0 107.7 L365.9 108.7 L367.9 109.9 L369.9 111.2 L371.9 112.7 L373.9 114.2 L375.9 115.7 L377.9 117.2 L379.8 118.5 L381.8 119.6 L383.8 120.5 L388.8 122.4 L393.7 124.1 L398.7 125.8 L403.6 127.4 L408.6 128.9 L413.6 130.3 L418.5 131.8 L423.5 133.1 L428.4 134.5 L433.4 135.9 L438.3 137.3 L443.3 138.7 L448.3 140.1 L453.2 141.5 L458.2 142.9 L463.1 144.2 L468.1 145.6 L473.1 146.9 L478.0 148.2 L483.0 149.5 L487.9 150.8 L492.9 152.1 L497.8 153.5 L502.8 154.8" fill="none" stroke="#b4232c" stroke-width="0.9" stroke-opacity="0.9" stroke-dasharray="8 2.7"/>
<circle cx="324.30" cy="113.20" r="1.6" fill="#a0141a"/>
<circle cx="360.00" cy="106.50" r="1.6" fill="#a0141a"/>
<circle cx="383.80" cy="120.50" r="1.6" fill="#a0141a"/>
<circle cx="443.30" cy="138.70" r="1.6" fill="#a0141a"/>
<circle cx="502.80" cy="154.80" r="1.6" fill="#a0141a"/>
<path d="M324.3 123.6 L327.3 122.9 L330.2 122.2 L333.2 121.3 L336.2 120.4 L339.2 119.5 L342.1 118.6 L345.1 117.9 L348.1 117.2 L351.1 116.7 L354.1 116.4 L357.0 116.4 L360.0 116.6 L362.0 117.1 L364.0 117.9 L365.9 118.9 L367.9 120.3 L369.9 121.7 L371.9 123.3 L373.9 124.9 L375.9 126.5 L377.9 128.0 L379.8 129.3 L381.8 130.5 L383.8 131.3 L388.8 132.9 L393.7 134.4 L398.7 135.7 L403.6 137.0 L408.6 138.1 L413.6 139.2 L418.5 140.2 L423.5 141.2 L428.4 142.2 L433.4 143.2 L438.3 144.3 L443.3 145.4 L448.3 146.6 L453.2 147.7 L458.2 148.9 L463.1 150.1 L468.1 151.2 L473.1 152.4 L478.0 153.6 L483.0 154.7 L487.9 155.9 L492.9 157.1 L497.8 158.2 L502.8 159.4" fill="none" stroke="#0a0a0a" stroke-width="0.9" stroke-opacity="0.88" stroke-dasharray="5.4 1.4 0.8 1 0.8 1.3"/>
<circle cx="324.30" cy="123.60" r="1.6" fill="#0a0a0a"/>
<circle cx="360.00" cy="116.60" r="1.6" fill="#0a0a0a"/>
<circle cx="383.80" cy="131.30" r="1.6" fill="#0a0a0a"/>
<circle cx="443.30" cy="145.40" r="1.6" fill="#0a0a0a"/>
<circle cx="502.80" cy="159.40" r="1.6" fill="#0a0a0a"/>
<rect x="312.9" y="8.7" width="202.70000000000005" height="185.10000000000002" fill="none" stroke="#262626" stroke-width="1.15"/>
<line x1="324.30" x2="324.30" y1="193.8" y2="191.60000000000002" stroke="#262626" stroke-width="0.7"/>
<line x1="336.20" x2="336.20" y1="193.8" y2="191.60000000000002" stroke="#262626" stroke-width="0.7"/>
<line x1="348.10" x2="348.10" y1="193.8" y2="191.60000000000002" stroke="#262626" stroke-width="0.7"/>
<line x1="360.00" x2="360.00" y1="193.8" y2="191.60000000000002" stroke="#262626" stroke-width="0.7"/>
<line x1="371.90" x2="371.90" y1="193.8" y2="191.60000000000002" stroke="#262626" stroke-width="0.7"/>
<line x1="383.80" x2="383.80" y1="193.8" y2="191.60000000000002" stroke="#262626" stroke-width="0.7"/>
<line x1="395.70" x2="395.70" y1="193.8" y2="191.60000000000002" stroke="#262626" stroke-width="0.7"/>
<line x1="407.60" x2="407.60" y1="193.8" y2="191.60000000000002" stroke="#262626" stroke-width="0.7"/>
<line x1="419.50" x2="419.50" y1="193.8" y2="191.60000000000002" stroke="#262626" stroke-width="0.7"/>
<line x1="431.40" x2="431.40" y1="193.8" y2="191.60000000000002" stroke="#262626" stroke-width="0.7"/>
<line x1="443.30" x2="443.30" y1="193.8" y2="191.60000000000002" stroke="#262626" stroke-width="0.7"/>
<line x1="455.20" x2="455.20" y1="193.8" y2="191.60000000000002" stroke="#262626" stroke-width="0.7"/>
<line x1="467.10" x2="467.10" y1="193.8" y2="191.60000000000002" stroke="#262626" stroke-width="0.7"/>
<line x1="479.00" x2="479.00" y1="193.8" y2="191.60000000000002" stroke="#262626" stroke-width="0.7"/>
<line x1="490.90" x2="490.90" y1="193.8" y2="191.60000000000002" stroke="#262626" stroke-width="0.7"/>
<line x1="502.80" x2="502.80" y1="193.8" y2="191.60000000000002" stroke="#262626" stroke-width="0.7"/>
<line x1="514.70" x2="514.70" y1="193.8" y2="191.60000000000002" stroke="#262626" stroke-width="0.7"/>
<line x1="360.00" x2="360.00" y1="193.8" y2="189.60000000000002" stroke="#262626" stroke-width="1.1"/>
<text x="360.00" y="203.0" font-size="8.2" text-anchor="middle">25</text>
<line x1="419.50" x2="419.50" y1="193.8" y2="189.60000000000002" stroke="#262626" stroke-width="1.1"/>
<text x="419.50" y="203.0" font-size="8.2" text-anchor="middle">30</text>
<line x1="479.00" x2="479.00" y1="193.8" y2="189.60000000000002" stroke="#262626" stroke-width="1.1"/>
<text x="479.00" y="203.0" font-size="8.2" text-anchor="middle">35</text>
<line x1="312.9" x2="315.59999999999997" y1="8.70" y2="8.70" stroke="#888" stroke-width="0.6"/>
<line x1="312.9" x2="315.59999999999997" y1="17.24" y2="17.24" stroke="#888" stroke-width="0.6"/>
<line x1="312.9" x2="315.59999999999997" y1="25.78" y2="25.78" stroke="#888" stroke-width="0.6"/>
<line x1="312.9" x2="315.59999999999997" y1="34.32" y2="34.32" stroke="#888" stroke-width="0.6"/>
<line x1="312.9" x2="315.59999999999997" y1="42.86" y2="42.86" stroke="#888" stroke-width="0.6"/>
<line x1="312.9" x2="315.59999999999997" y1="51.40" y2="51.40" stroke="#888" stroke-width="0.6"/>
<line x1="312.9" x2="315.59999999999997" y1="59.94" y2="59.94" stroke="#888" stroke-width="0.6"/>
<line x1="312.9" x2="315.59999999999997" y1="68.48" y2="68.48" stroke="#888" stroke-width="0.6"/>
<line x1="312.9" x2="315.59999999999997" y1="77.02" y2="77.02" stroke="#888" stroke-width="0.6"/>
<line x1="312.9" x2="315.59999999999997" y1="85.56" y2="85.56" stroke="#888" stroke-width="0.6"/>
<line x1="312.9" x2="315.59999999999997" y1="94.10" y2="94.10" stroke="#888" stroke-width="0.6"/>
<line x1="312.9" x2="315.59999999999997" y1="102.64" y2="102.64" stroke="#888" stroke-width="0.6"/>
<line x1="312.9" x2="315.59999999999997" y1="111.18" y2="111.18" stroke="#888" stroke-width="0.6"/>
<line x1="312.9" x2="315.59999999999997" y1="119.72" y2="119.72" stroke="#888" stroke-width="0.6"/>
<line x1="312.9" x2="315.59999999999997" y1="128.26" y2="128.26" stroke="#888" stroke-width="0.6"/>
<line x1="312.9" x2="315.59999999999997" y1="136.80" y2="136.80" stroke="#888" stroke-width="0.6"/>
<line x1="312.9" x2="315.59999999999997" y1="145.34" y2="145.34" stroke="#888" stroke-width="0.6"/>
<line x1="312.9" x2="315.59999999999997" y1="153.88" y2="153.88" stroke="#888" stroke-width="0.6"/>
<line x1="312.9" x2="315.59999999999997" y1="162.42" y2="162.42" stroke="#888" stroke-width="0.6"/>
<line x1="312.9" x2="315.59999999999997" y1="170.96" y2="170.96" stroke="#888" stroke-width="0.6"/>
<line x1="312.9" x2="315.59999999999997" y1="179.50" y2="179.50" stroke="#888" stroke-width="0.6"/>
<line x1="312.9" x2="315.59999999999997" y1="188.04" y2="188.04" stroke="#888" stroke-width="0.6"/>
<line x1="312.9" x2="317.4" y1="179.50" y2="179.50" stroke="#262626" stroke-width="1.1"/>
<text x="310.10" y="182.80" font-size="8.2" text-anchor="end">0.931</text>
<line x1="312.9" x2="317.4" y1="136.80" y2="136.80" stroke="#262626" stroke-width="1.1"/>
<text x="310.10" y="140.10" font-size="8.2" text-anchor="end">0.934</text>
<line x1="312.9" x2="317.4" y1="94.10" y2="94.10" stroke="#262626" stroke-width="1.1"/>
<text x="310.10" y="97.40" font-size="8.2" text-anchor="end">0.937</text>
<line x1="312.9" x2="317.4" y1="51.40" y2="51.40" stroke="#262626" stroke-width="1.1"/>
<text x="310.10" y="54.70" font-size="8.2" text-anchor="end">0.94</text>
<line x1="312.9" x2="317.4" y1="8.70" y2="8.70" stroke="#262626" stroke-width="1.1"/>
<text x="310.10" y="12.00" font-size="8.2" text-anchor="end">0.943</text>
<line x1="515.6" x2="512.9" y1="193.80" y2="193.80" stroke="#888" stroke-width="0.6"/>
<line x1="515.6" x2="512.9" y1="187.63" y2="187.63" stroke="#888" stroke-width="0.6"/>
<line x1="515.6" x2="512.9" y1="181.46" y2="181.46" stroke="#888" stroke-width="0.6"/>
<line x1="515.6" x2="512.9" y1="175.29" y2="175.29" stroke="#888" stroke-width="0.6"/>
<line x1="515.6" x2="512.9" y1="169.12" y2="169.12" stroke="#888" stroke-width="0.6"/>
<line x1="515.6" x2="512.9" y1="162.95" y2="162.95" stroke="#888" stroke-width="0.6"/>
<line x1="515.6" x2="512.9" y1="156.78" y2="156.78" stroke="#888" stroke-width="0.6"/>
<line x1="515.6" x2="512.9" y1="150.61" y2="150.61" stroke="#888" stroke-width="0.6"/>
<line x1="515.6" x2="512.9" y1="144.44" y2="144.44" stroke="#888" stroke-width="0.6"/>
<line x1="515.6" x2="512.9" y1="138.27" y2="138.27" stroke="#888" stroke-width="0.6"/>
<line x1="515.6" x2="512.9" y1="132.10" y2="132.10" stroke="#888" stroke-width="0.6"/>
<line x1="515.6" x2="512.9" y1="125.93" y2="125.93" stroke="#888" stroke-width="0.6"/>
<line x1="515.6" x2="512.9" y1="119.76" y2="119.76" stroke="#888" stroke-width="0.6"/>
<line x1="515.6" x2="512.9" y1="113.59" y2="113.59" stroke="#888" stroke-width="0.6"/>
<line x1="515.6" x2="512.9" y1="107.42" y2="107.42" stroke="#888" stroke-width="0.6"/>
<line x1="515.6" x2="512.9" y1="101.25" y2="101.25" stroke="#888" stroke-width="0.6"/>
<line x1="515.6" x2="512.9" y1="95.08" y2="95.08" stroke="#888" stroke-width="0.6"/>
<line x1="515.6" x2="512.9" y1="88.91" y2="88.91" stroke="#888" stroke-width="0.6"/>
<line x1="515.6" x2="512.9" y1="82.74" y2="82.74" stroke="#888" stroke-width="0.6"/>
<line x1="515.6" x2="512.9" y1="76.57" y2="76.57" stroke="#888" stroke-width="0.6"/>
<line x1="515.6" x2="512.9" y1="70.40" y2="70.40" stroke="#888" stroke-width="0.6"/>
<line x1="515.6" x2="512.9" y1="64.23" y2="64.23" stroke="#888" stroke-width="0.6"/>
<line x1="515.6" x2="512.9" y1="58.06" y2="58.06" stroke="#888" stroke-width="0.6"/>
<line x1="515.6" x2="512.9" y1="51.89" y2="51.89" stroke="#888" stroke-width="0.6"/>
<line x1="515.6" x2="512.9" y1="45.72" y2="45.72" stroke="#888" stroke-width="0.6"/>
<line x1="515.6" x2="512.9" y1="39.55" y2="39.55" stroke="#888" stroke-width="0.6"/>
<line x1="515.6" x2="512.9" y1="33.38" y2="33.38" stroke="#888" stroke-width="0.6"/>
<line x1="515.6" x2="512.9" y1="27.21" y2="27.21" stroke="#888" stroke-width="0.6"/>
<line x1="515.6" x2="512.9" y1="21.04" y2="21.04" stroke="#888" stroke-width="0.6"/>
<line x1="515.6" x2="512.9" y1="14.87" y2="14.87" stroke="#888" stroke-width="0.6"/>
<line x1="515.6" x2="512.9" y1="8.70" y2="8.70" stroke="#888" stroke-width="0.6"/>
<line x1="515.6" x2="511.1" y1="193.80" y2="193.80" stroke="#262626" stroke-width="1.1"/>
<text x="518.2" y="196.90" font-size="8.2" text-anchor="start">0.88</text>
<line x1="515.6" x2="511.1" y1="162.95" y2="162.95" stroke="#262626" stroke-width="1.1"/>
<text x="518.2" y="166.05" font-size="8.2" text-anchor="start">0.89</text>
<line x1="515.6" x2="511.1" y1="132.10" y2="132.10" stroke="#262626" stroke-width="1.1"/>
<text x="518.2" y="135.20" font-size="8.2" text-anchor="start">0.9</text>
<line x1="515.6" x2="511.1" y1="101.25" y2="101.25" stroke="#262626" stroke-width="1.1"/>
<text x="518.2" y="104.35" font-size="8.2" text-anchor="start">0.91</text>
<line x1="515.6" x2="511.1" y1="70.40" y2="70.40" stroke="#262626" stroke-width="1.1"/>
<text x="518.2" y="73.50" font-size="8.2" text-anchor="start">0.92</text>
<line x1="515.6" x2="511.1" y1="39.55" y2="39.55" stroke="#262626" stroke-width="1.1"/>
<text x="518.2" y="42.65" font-size="8.2" text-anchor="start">0.93</text>
<line x1="515.6" x2="511.1" y1="8.70" y2="8.70" stroke="#262626" stroke-width="1.1"/>
<text x="518.2" y="11.80" font-size="8.2" text-anchor="start">0.94</text>
<line x1="408" x2="447" y1="14.80" y2="14.80" stroke="#19dc19" stroke-width="1.1" stroke-opacity="0.9"/>
<circle cx="427.6" cy="14.80" r="1.7" fill="#19dc19"/>
<text transform="translate(453.5,17.70) scale(1.0,1)" font-size="8.7" font-weight="bold" stroke="#1a1a1a" stroke-width="0.22">C<tspan font-size="5.2" dy="2.3">f</tspan><tspan dy="-2.3"> - 2.6 mm h</tspan><tspan font-size="5.2" dy="2.3">b</tspan></text>
<line x1="408" x2="447" y1="22.70" y2="22.70" stroke="#707070" stroke-width="0.9" stroke-opacity="0.88" stroke-dasharray="5.4 5.3"/>
<circle cx="427.6" cy="22.70" r="1.7" fill="#5a5a5a"/>
<text transform="translate(453.5,25.60) scale(1.0,1)" font-size="8.7" font-weight="bold" stroke="#1a1a1a" stroke-width="0.22">C<tspan font-size="5.2" dy="2.3">f</tspan><tspan dy="-2.3"> - 3.2 mm h</tspan><tspan font-size="5.2" dy="2.3">b</tspan></text>
<line x1="408" x2="447" y1="30.60" y2="30.60" stroke="#ff14c4" stroke-width="0.9" stroke-opacity="0.88" stroke-dasharray="8 3.4 1.2 3.4"/>
<circle cx="427.6" cy="30.60" r="1.7" fill="#ff14c4"/>
<text transform="translate(453.5,33.50) scale(1.0,1)" font-size="8.7" font-weight="bold" stroke="#1a1a1a" stroke-width="0.22">C<tspan font-size="5.2" dy="2.3">f</tspan><tspan dy="-2.3"> - 3.7 mm h</tspan><tspan font-size="5.2" dy="2.3">b</tspan></text>
<line x1="408" x2="447" y1="38.50" y2="38.50" stroke="#806060" stroke-width="0.9" stroke-opacity="0.5" stroke-dasharray="0.8 1.1"/>
<circle cx="427.6" cy="38.50" r="1.7" fill="#5a0a0a"/>
<text transform="translate(453.5,41.40) scale(1.0,1)" font-size="8.7" font-weight="bold" stroke="#1a1a1a" stroke-width="0.22">C<tspan font-size="5.2" dy="2.3">f</tspan><tspan dy="-2.3"> - 4.2 mm h</tspan><tspan font-size="5.2" dy="2.3">b</tspan></text>
<line x1="408" x2="447" y1="46.40" y2="46.40" stroke="#7a2ad6" stroke-width="0.9" stroke-opacity="0.95" stroke-dasharray="12 4"/>
<circle cx="427.6" cy="46.40" r="1.7" fill="#5a14d2"/>
<text transform="translate(453.5,49.30) scale(1.0,1)" font-size="8.7" font-weight="bold" stroke="#1a1a1a" stroke-width="0.22">C<tspan font-size="5.2" dy="2.3">f</tspan><tspan dy="-2.3"> - 5 mm h</tspan><tspan font-size="5.2" dy="2.3">b</tspan></text>
<line x1="408" x2="447" y1="54.30" y2="54.30" stroke="#e3262a" stroke-width="0.9" stroke-opacity="0.88" stroke-dasharray="5.4 1.4 0.8 1 0.8 1.3"/>
<circle cx="427.6" cy="54.30" r="1.7" fill="#e3262a"/>
<text transform="translate(453.5,57.20) scale(1.0,1)" font-size="8.7" font-weight="bold" stroke="#1a1a1a" stroke-width="0.22">C<tspan font-size="5.2" dy="2.3">d</tspan><tspan dy="-2.3"> - 2.6 mm h</tspan><tspan font-size="5.2" dy="2.3">b</tspan></text>
<line x1="408" x2="447" y1="62.20" y2="62.20" stroke="#3a3aff" stroke-width="0.9" stroke-opacity="0.8" stroke-dasharray="5.4 5.3"/>
<circle cx="427.6" cy="62.20" r="1.7" fill="#3a3aff"/>
<text transform="translate(453.5,65.10) scale(1.0,1)" font-size="8.7" font-weight="bold" stroke="#1a1a1a" stroke-width="0.22">C<tspan font-size="5.2" dy="2.3">d</tspan><tspan dy="-2.3"> - 3.2 mm h</tspan><tspan font-size="5.2" dy="2.3">b</tspan></text>
<line x1="408" x2="447" y1="70.10" y2="70.10" stroke="#ff8a14" stroke-width="0.9" stroke-opacity="0.88" stroke-dasharray="5.4 2.2 1 2.1"/>
<circle cx="427.6" cy="70.10" r="1.7" fill="#ff8a14"/>
<text transform="translate(453.5,73.00) scale(1.0,1)" font-size="8.7" font-weight="bold" stroke="#1a1a1a" stroke-width="0.22">C<tspan font-size="5.2" dy="2.3">d</tspan><tspan dy="-2.3"> - 3.7 mm h</tspan><tspan font-size="5.2" dy="2.3">b</tspan></text>
<line x1="408" x2="447" y1="78.00" y2="78.00" stroke="#b4232c" stroke-width="0.9" stroke-opacity="0.9" stroke-dasharray="8 2.7"/>
<circle cx="427.6" cy="78.00" r="1.7" fill="#a0141a"/>
<text transform="translate(453.5,80.90) scale(1.0,1)" font-size="8.7" font-weight="bold" stroke="#1a1a1a" stroke-width="0.22">C<tspan font-size="5.2" dy="2.3">d</tspan><tspan dy="-2.3"> - 4.2 mm h</tspan><tspan font-size="5.2" dy="2.3">b</tspan></text>
<line x1="408" x2="447" y1="85.90" y2="85.90" stroke="#0a0a0a" stroke-width="0.9" stroke-opacity="0.88" stroke-dasharray="5.4 1.4 0.8 1 0.8 1.3"/>
<circle cx="427.6" cy="85.90" r="1.7" fill="#0a0a0a"/>
<text transform="translate(453.5,88.80) scale(1.0,1)" font-size="8.7" font-weight="bold" stroke="#1a1a1a" stroke-width="0.22">C<tspan font-size="5.2" dy="2.3">d</tspan><tspan dy="-2.3"> - 5 mm h</tspan><tspan font-size="5.2" dy="2.3">b</tspan></text>
<text transform="translate(414.00,214.60)" font-size="12.0" font-weight="bold" text-anchor="middle" stroke="#1a1a1a" stroke-width="0.3">Nozzle convergence angle (θ<tspan font-size="6.2" dy="2.8">1</tspan><tspan dy="-2.8">)</tspan></text>
<text transform="translate(412.00,234.00)" font-size="11.8" font-weight="bold" text-anchor="middle"><tspan font-weight="normal">(</tspan>b<tspan font-weight="normal">)</tspan></text>
<text transform="translate(288.80,100.80) rotate(-90) scale(1.0,1.04)" font-size="12.2" font-weight="bold" text-anchor="middle" stroke="#1a1a1a" stroke-width="0.3">Thrust coefficient C<tspan font-size="6.2" dy="2.4">f</tspan></text>
<text transform="translate(544.50,101.20) rotate(-90) scale(1.0,1.04)" font-size="12.05" font-weight="bold" text-anchor="middle" stroke="#1a1a1a" stroke-width="0.3">Discharge coefficient C<tspan font-size="6.2" dy="2.4">d</tspan></text>
</svg></body></html>
